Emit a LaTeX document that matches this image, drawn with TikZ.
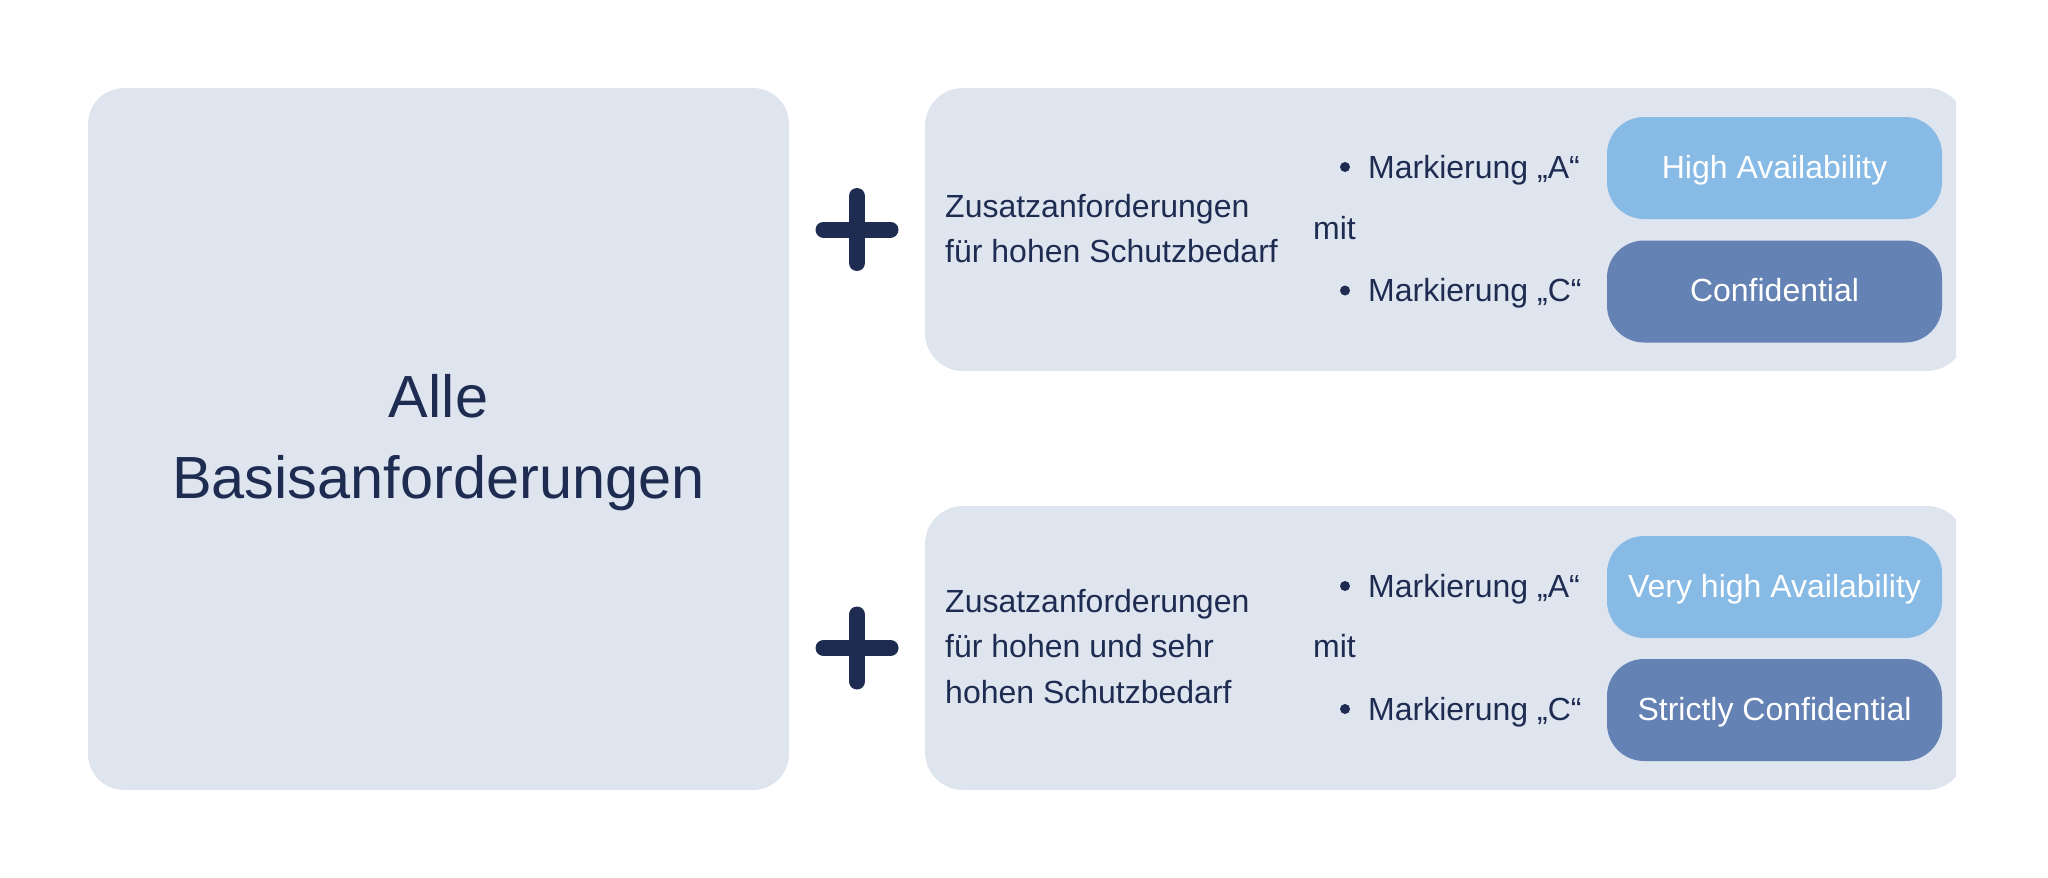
\documentclass[tikz,border=0pt]{standalone}
\usepackage{fontspec}
\setmainfont{Liberation Sans}
\definecolor{navy}{HTML}{1F2C52}
\definecolor{boxfill}{HTML}{DFE5EF}
\definecolor{pilllight}{HTML}{88BAE6}
\definecolor{pilldark}{HTML}{6482B4}
\begin{document}
\begin{tikzpicture}[x=1pt,y=-1pt,
  panel/.style={fill=boxfill, rounded corners=36pt, inner sep=0pt, draw=none},
  pill/.style={rounded corners=37pt, minimum width=335pt, minimum height=102pt,
    inner sep=0pt, text height=20pt, text depth=0pt, text=white,
    font=\fontsize{32}{40}\selectfont},
  pillA/.style={pill, fill=pilllight},
  pillC/.style={pill, fill=pilldark},
  txt/.style={text=navy, inner sep=0pt, anchor=base west, font=\fontsize{32}{40}\selectfont},
  big/.style={text=navy, inner sep=0pt, anchor=base, font=\fontsize{59.5}{70}\selectfont},
  dot/.style={circle, fill=navy, minimum size=10pt, inner sep=0pt},
  plusline/.style={draw=navy, line width=16pt, line cap=round}
]
\useasboundingbox (0,0) rectangle (2048,878);

% big box
\node[panel, minimum width=701pt, minimum height=702pt] (basebox) at (438.5,439) {};
\node[big] (alle) at (438.5,417) {Alle};
\node[big] (basis) at (438.5,498) {Basisanforderungen};

% right panels (right edge clipped)
\begin{scope}
  \clip (900,0) rectangle (1956,878);
  \node[panel, rounded corners=38pt, minimum width=1040pt, minimum height=283pt] (top) at (1445,229.5) {};
  \node[panel, rounded corners=38pt, minimum width=1040pt, minimum height=284pt] (bot) at (1445,648) {};
\end{scope}

% plus signs
\coordinate (p1) at (857,229.5);
\coordinate (p2) at (857,648);
\draw[plusline] (p1) ++(-33.5,0) -- ++(67,0) (p1) ++(0,-33.5) -- ++(0,67);
\draw[plusline] (p2) ++(-33.5,0) -- ++(67,0) (p2) ++(0,-33.5) -- ++(0,67);

% top panel content
\node[txt] (t1) at (945,217) {Zusatzanforderungen};
\node[txt] (t2) at (945,262.5) {für hohen Schutzbedarf};
\node[txt] (tmit) at (1313,239.5) {mit};
\node[dot] (tb1) at (1345,167) {};
\node[txt] (tm1) at (1368,178) {Markierung „A“};
\node[dot] (tb2) at (1345,290.5) {};
\node[txt] (tm2) at (1368,301.5) {Markierung „C“};
\node[pillA] (ha) at (1774.5,168) {High Availability};
\node[pillC] (co) at (1774.5,291.5) {Confidential};

% bottom panel content
\node[txt] (u1) at (945,612) {Zusatzanforderungen};
\node[txt] (u2) at (945,657.5) {für hohen und sehr};
\node[txt] (u3) at (945,703) {hohen Schutzbedarf};
\node[txt] (umit) at (1313,657.5) {mit};
\node[dot] (ub1) at (1345,586) {};
\node[txt] (um1) at (1368,597) {Markierung „A“};
\node[dot] (ub2) at (1345,709) {};
\node[txt] (um2) at (1368,720) {Markierung „C“};
\node[pillA] (vha) at (1774.5,587) {Very high Availability};
\node[pillC] (sc) at (1774.5,710) {Strictly Confidential};
\end{tikzpicture}
\end{document}
